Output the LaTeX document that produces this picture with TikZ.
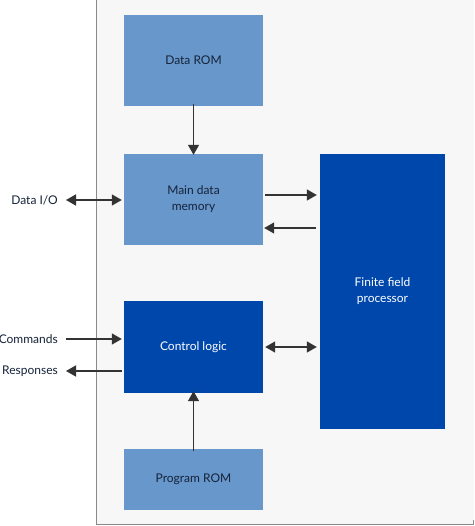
\documentclass[tikz,border=0pt]{standalone}
\usepackage{fontspec}
\setmainfont{Lato}
\usetikzlibrary{arrows.meta}
\definecolor{lightblk}{HTML}{6897CB}
\definecolor{darkblk}{HTML}{0047AB}
\definecolor{panel}{HTML}{F7F7F7}
\definecolor{edge}{HTML}{8A8A8A}
\definecolor{ink}{HTML}{333333}
\definecolor{navytext}{HTML}{15233A}
\begin{document}
\begin{tikzpicture}[x=1pt,y=-1pt,
  lightbox/.style={fill=lightblk,draw=none,inner sep=0pt,text=navytext,align=center,font=\fontsize{12}{16}\selectfont},
  darkbox/.style={fill=darkblk,draw=none,inner sep=0pt,text=white,align=center,font=\fontsize{12}{16}\selectfont},
  lbl/.style={anchor=east,inner sep=0pt,text=navytext,font=\fontsize{12}{14}\selectfont},
  conn/.style={draw=ink,line width=1.4pt,-{Triangle[length=10pt,width=11pt]}},
  conn2/.style={draw=ink,line width=1.4pt,{Triangle[length=10pt,width=11pt]}-{Triangle[length=10pt,width=11pt]}}]
\useasboundingbox (0,0) rectangle (474,526);
\fill[white] (0,0) rectangle (474,526);
\fill[panel] (96,-2) rectangle (473.5,524.5);
\draw[edge,line width=1pt] (96,-2) -- (96,524.5) -- (473.5,524.5) -- (473.5,520);
% blocks
\node[lightbox,minimum width=139pt,minimum height=91pt] (rom) at (193.5,60.5) {Data ROM};
\node[lightbox,minimum width=139pt,minimum height=91pt] (mem) at (193.5,199.5) {Main data\\memory};
\node[darkbox,minimum width=125pt,minimum height=275pt] (ffp) at (382.5,291.5) {Finite field\\processor};
\node[darkbox,minimum width=139pt,minimum height=92pt] (ctl) at (193.5,347) {Control logic};
\node[lightbox,minimum width=139pt,minimum height=61pt] (prog) at (193.5,479.5) {Program ROM};
% external labels
\node[lbl] (dio) at (58,200) {Data I/O};
\node[lbl] (cmd) at (58,339) {Commands};
\node[lbl] (rsp) at (58,371) {Responses};
% connector endpoints
\coordinate (dioA) at (66,200);
\coordinate (cmdA) at (66,339);
\coordinate (rspA) at (66,371);
% connectors
\draw[conn] ([yshift=2pt]rom.south) -- ([yshift=-1pt]mem.north);
\draw[conn2] (dioA) -- ([xshift=-2pt]mem.west |- dioA);
\draw[conn] ([xshift=2pt]mem.east |- 0,195) -- ([xshift=-3pt]ffp.west |- 0,195);
\draw[conn] ([xshift=-4pt]ffp.west |- 0,228) -- ([xshift=1pt]mem.east |- 0,228);
\draw[conn] (cmdA) -- ([xshift=-2pt]ctl.west |- cmdA);
\draw[conn] ([xshift=-2pt]ctl.west |- rspA) -- (rspA);
\draw[conn2] ([xshift=2pt]ctl.east) -- ([xshift=-3pt]ffp.west |- ctl.east);
\draw[conn] ([yshift=-2pt]prog.north) -- ([yshift=2pt]ctl.south);
\end{tikzpicture}
\end{document}
